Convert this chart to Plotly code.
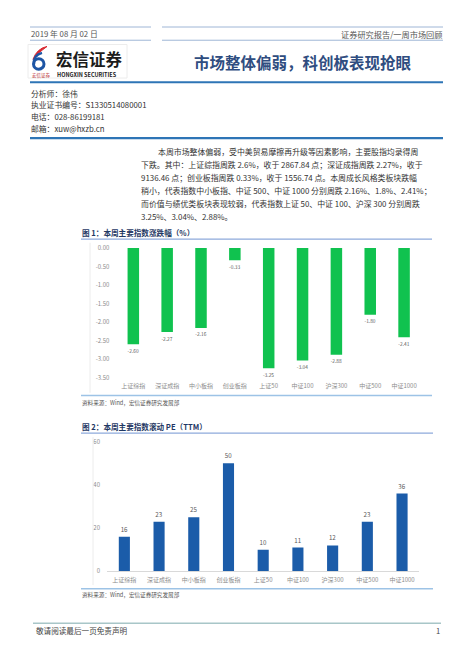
import plotly.graph_objects as go

W, H = 474, 670
FONT = "Noto Sans CJK SC"

# chart data
categories = ["上证综指", "深证成指", "中小板指", "创业板指", "上证50",
              "中证100", "沪深300", "中证500", "中证1000"]
pct_change = [-2.60, -2.27, -2.16, -0.33, -3.25, -3.04, -2.88, -1.80, -2.41]
pe_ttm = [16, 23, 25, 50, 10, 11, 12, 23, 36]
pct_ticks = [0, -0.5, -1.0, -1.5, -2.0, -2.5, -3.0, -3.5]
pe_ticks = [0, 20, 40, 60]

# page text
analyst_lines = ["分析师：徐伟", "执业证书编号：S1330514080001",
                 "电话：028-86199181", "邮箱：xuw@hxzb.cn"]
para_lines = [
    "本周市场整体偏弱，受中美贸易摩擦再升级等因素影响，主要股指均录得周",
    "下跌。其中：上证综指周跌 2.6%，收于 2867.84 点；深证成指周跌 2.27%，收于",
    "9136.46 点；创业板指周跌 0.33%，收于 1556.74 点。本周成长风格类板块跌幅",
    "稍小，代表指数中小板指、中证 500、中证 1000 分别周跌 2.16%、1.8%、2.41%；",
    "而价值与绩优类板块表现较弱，代表指数上证 50、中证 100、沪深 300 分别周跌",
    "3.25%、3.04%、2.88%。",
]


def px(x):
    return x / W


def py(y):
    return 1 - y / H


annotations = []
shapes = []


def text(x, y, s, size, color="#333333", anchor="left"):
    annotations.append(dict(x=px(x), y=py(y), xref="paper", yref="paper",
                            text=s, showarrow=False, xanchor=anchor,
                            yanchor="middle", borderpad=0,
                            font=dict(family=FONT, size=size, color=color)))


def hline(x0, x1, y, color, width=1):
    shapes.append(dict(type="line", xref="paper", yref="paper",
                       x0=px(x0), x1=px(x1), y0=py(y), y1=py(y),
                       line=dict(color=color, width=width)))


def vline(x, y0, y1, color, width=1):
    shapes.append(dict(type="line", xref="paper", yref="paper",
                       x0=px(x), x1=px(x), y0=py(y0), y1=py(y1),
                       line=dict(color=color, width=width)))


def path(cmds):
    out = []
    for c in cmds:
        if isinstance(c, str):
            out.append(c)
        else:
            out.append(f"{px(c[0]):.5f},{py(c[1]):.5f}")
    return " ".join(out)


# header
hline(30, 151, 22.3, "#9fb6d6")
hline(162, 443, 22.3, "#9fb6d6")
hline(30, 151, 35.7, "#9fb6d6")
hline(162, 443, 35.7, "#9fb6d6")
text(30, 29.3, "2019 年 08 月 02 日", 7.8, "#555555")
text(443, 29.3, "证券研究报告/一周市场回顾", 8.2, "#555555", "right")

# logo
shapes.append(dict(type="rect", xref="paper", yref="paper",
                   x0=px(28), x1=px(127), y0=py(74), y1=py(40),
                   line=dict(color="#ececec", width=1)))
shapes.append(dict(type="path", xref="paper", yref="paper",
                   path=path(["M", (47, 42), "Q", (37, 44), (33, 55),
                              "Q", (38, 48), (47, 42), "Z"]),
                   fillcolor="#d8262e", line=dict(color="#d8262e", width=1)))
shapes.append(dict(type="circle", xref="paper", yref="paper",
                   x0=px(33.5), x1=px(44), y0=py(65), y1=py(54.5),
                   line=dict(color="#1d55a5", width=3)))
shapes.append(dict(type="path", xref="paper", yref="paper",
                   path=path(["M", (34, 60), "Q", (33, 51), (42, 48.5)]),
                   line=dict(color="#1d55a5", width=2.5)))
text(55, 55, "<b>宏信证券</b>", 16.5, "#1c1c1c")
text(30.5, 71, "宏信证券", 4.5, "#b8282d")
text(56, 71, "<b>HONGXIN SECURITIES</b>", 5.5, "#1c1c1c")

# title
text(303, 57.7, "<b>市场整体偏弱，科创板表现抢眼</b>", 15.5, "#2f4d80", "center")
hline(30, 443, 78.3, "#2e75b6", 2.2)

# analyst info
for i, s in enumerate(analyst_lines):
    text(30, 89.3 + i * 11.9, s, 7.8, "#333333")
hline(30, 443, 135, "#2e75b6", 2.2)

# paragraph
for i, s in enumerate(para_lines):
    text(157 if i == 0 else 140, 149 + i * 13, s, 7.9, "#333333")

# figure 1 frame
text(81, 231, "<b>图 1：本周主要指数涨跌幅（%）</b>", 7.6, "#1f3864")
hline(81, 432, 237.3, "#8eaadb", 1.2)
vline(90, 241, 393, "#ececec")
hline(81, 432, 395.7, "#9dc3e6", 1.5)
text(81, 403, "资料来源：Wind，宏信证券研究发展部", 5.6, "#555555")

# figure 2 frame
text(81, 427.7, "<b>图 2：本周主要指数滚动 PE（TTM）</b>", 7.6, "#1f3864")
hline(81, 433, 434, "#8eaadb", 1.2)
vline(93, 438, 588, "#ececec")
hline(81, 433, 591.7, "#9dc3e6", 1.5)
text(81, 598.3, "资料来源：Wind，宏信证券研究发展部", 5.6, "#555555")

# footer
hline(33, 441, 626.7, "#a8c6c8", 1.5)
text(35, 634.3, "敬请阅读最后一页免责声明", 7.6, "#444444")
text(441, 634.3, "1", 7.6, "#444444", "right")

fig = go.Figure()
fig.add_trace(go.Bar(
    x=categories, y=pct_change, xaxis="x", yaxis="y",
    marker=dict(color="#10c24f", line=dict(width=0)), width=0.34,
    text=[f"{v:.2f}" for v in pct_change], textposition="outside",
    textfont=dict(family=FONT, size=6.2, color="#595959"),
    cliponaxis=False, hoverinfo="skip",
))
fig.add_trace(go.Bar(
    x=categories, y=pe_ttm, xaxis="x2", yaxis="y2",
    marker=dict(color="#1b5ca9", line=dict(width=0)), width=0.32,
    text=[f"{v}" for v in pe_ttm], textposition="outside",
    textfont=dict(family=FONT, size=6.2, color="#595959"),
    cliponaxis=False, hoverinfo="skip",
))

tickfont = dict(family=FONT, size=6, color="#8c8c8c")
fig.update_layout(
    width=W, height=H, margin=dict(l=0, r=0, t=0, b=0),
    paper_bgcolor="white", plot_bgcolor="white", showlegend=False,
    annotations=annotations, shapes=shapes,
    xaxis=dict(domain=[px(116.4), px(421)], anchor="y", showgrid=False,
               showline=False, ticks="", tickfont=tickfont,
               ticklabelstandoff=3, fixedrange=True),
    yaxis=dict(domain=[py(377.7), py(246.3)], anchor="x", range=[-3.5, 0],
               tickvals=pct_ticks, ticktext=[f"{v:.2f}" for v in pct_ticks],
               showgrid=False, zeroline=False, showline=False, ticks="",
               tickfont=tickfont, ticklabelstandoff=6, fixedrange=True),
    xaxis2=dict(domain=[px(107), px(419.4)], anchor="y2", showgrid=False,
                showline=True, linecolor="#d9d9d9", linewidth=1, ticks="",
                tickfont=tickfont, ticklabelstandoff=3, fixedrange=True),
    yaxis2=dict(domain=[py(574), py(442.7)], anchor="x2", range=[0, 60],
                tickvals=pe_ticks, ticktext=[str(v) for v in pe_ticks],
                showgrid=False, zeroline=False, showline=False, ticks="",
                tickfont=tickfont, ticklabelstandoff=6, fixedrange=True),
)

fig.write_html("out.html", config={"displayModeBar": False},
               post_script="document.body.style.margin='0';")
